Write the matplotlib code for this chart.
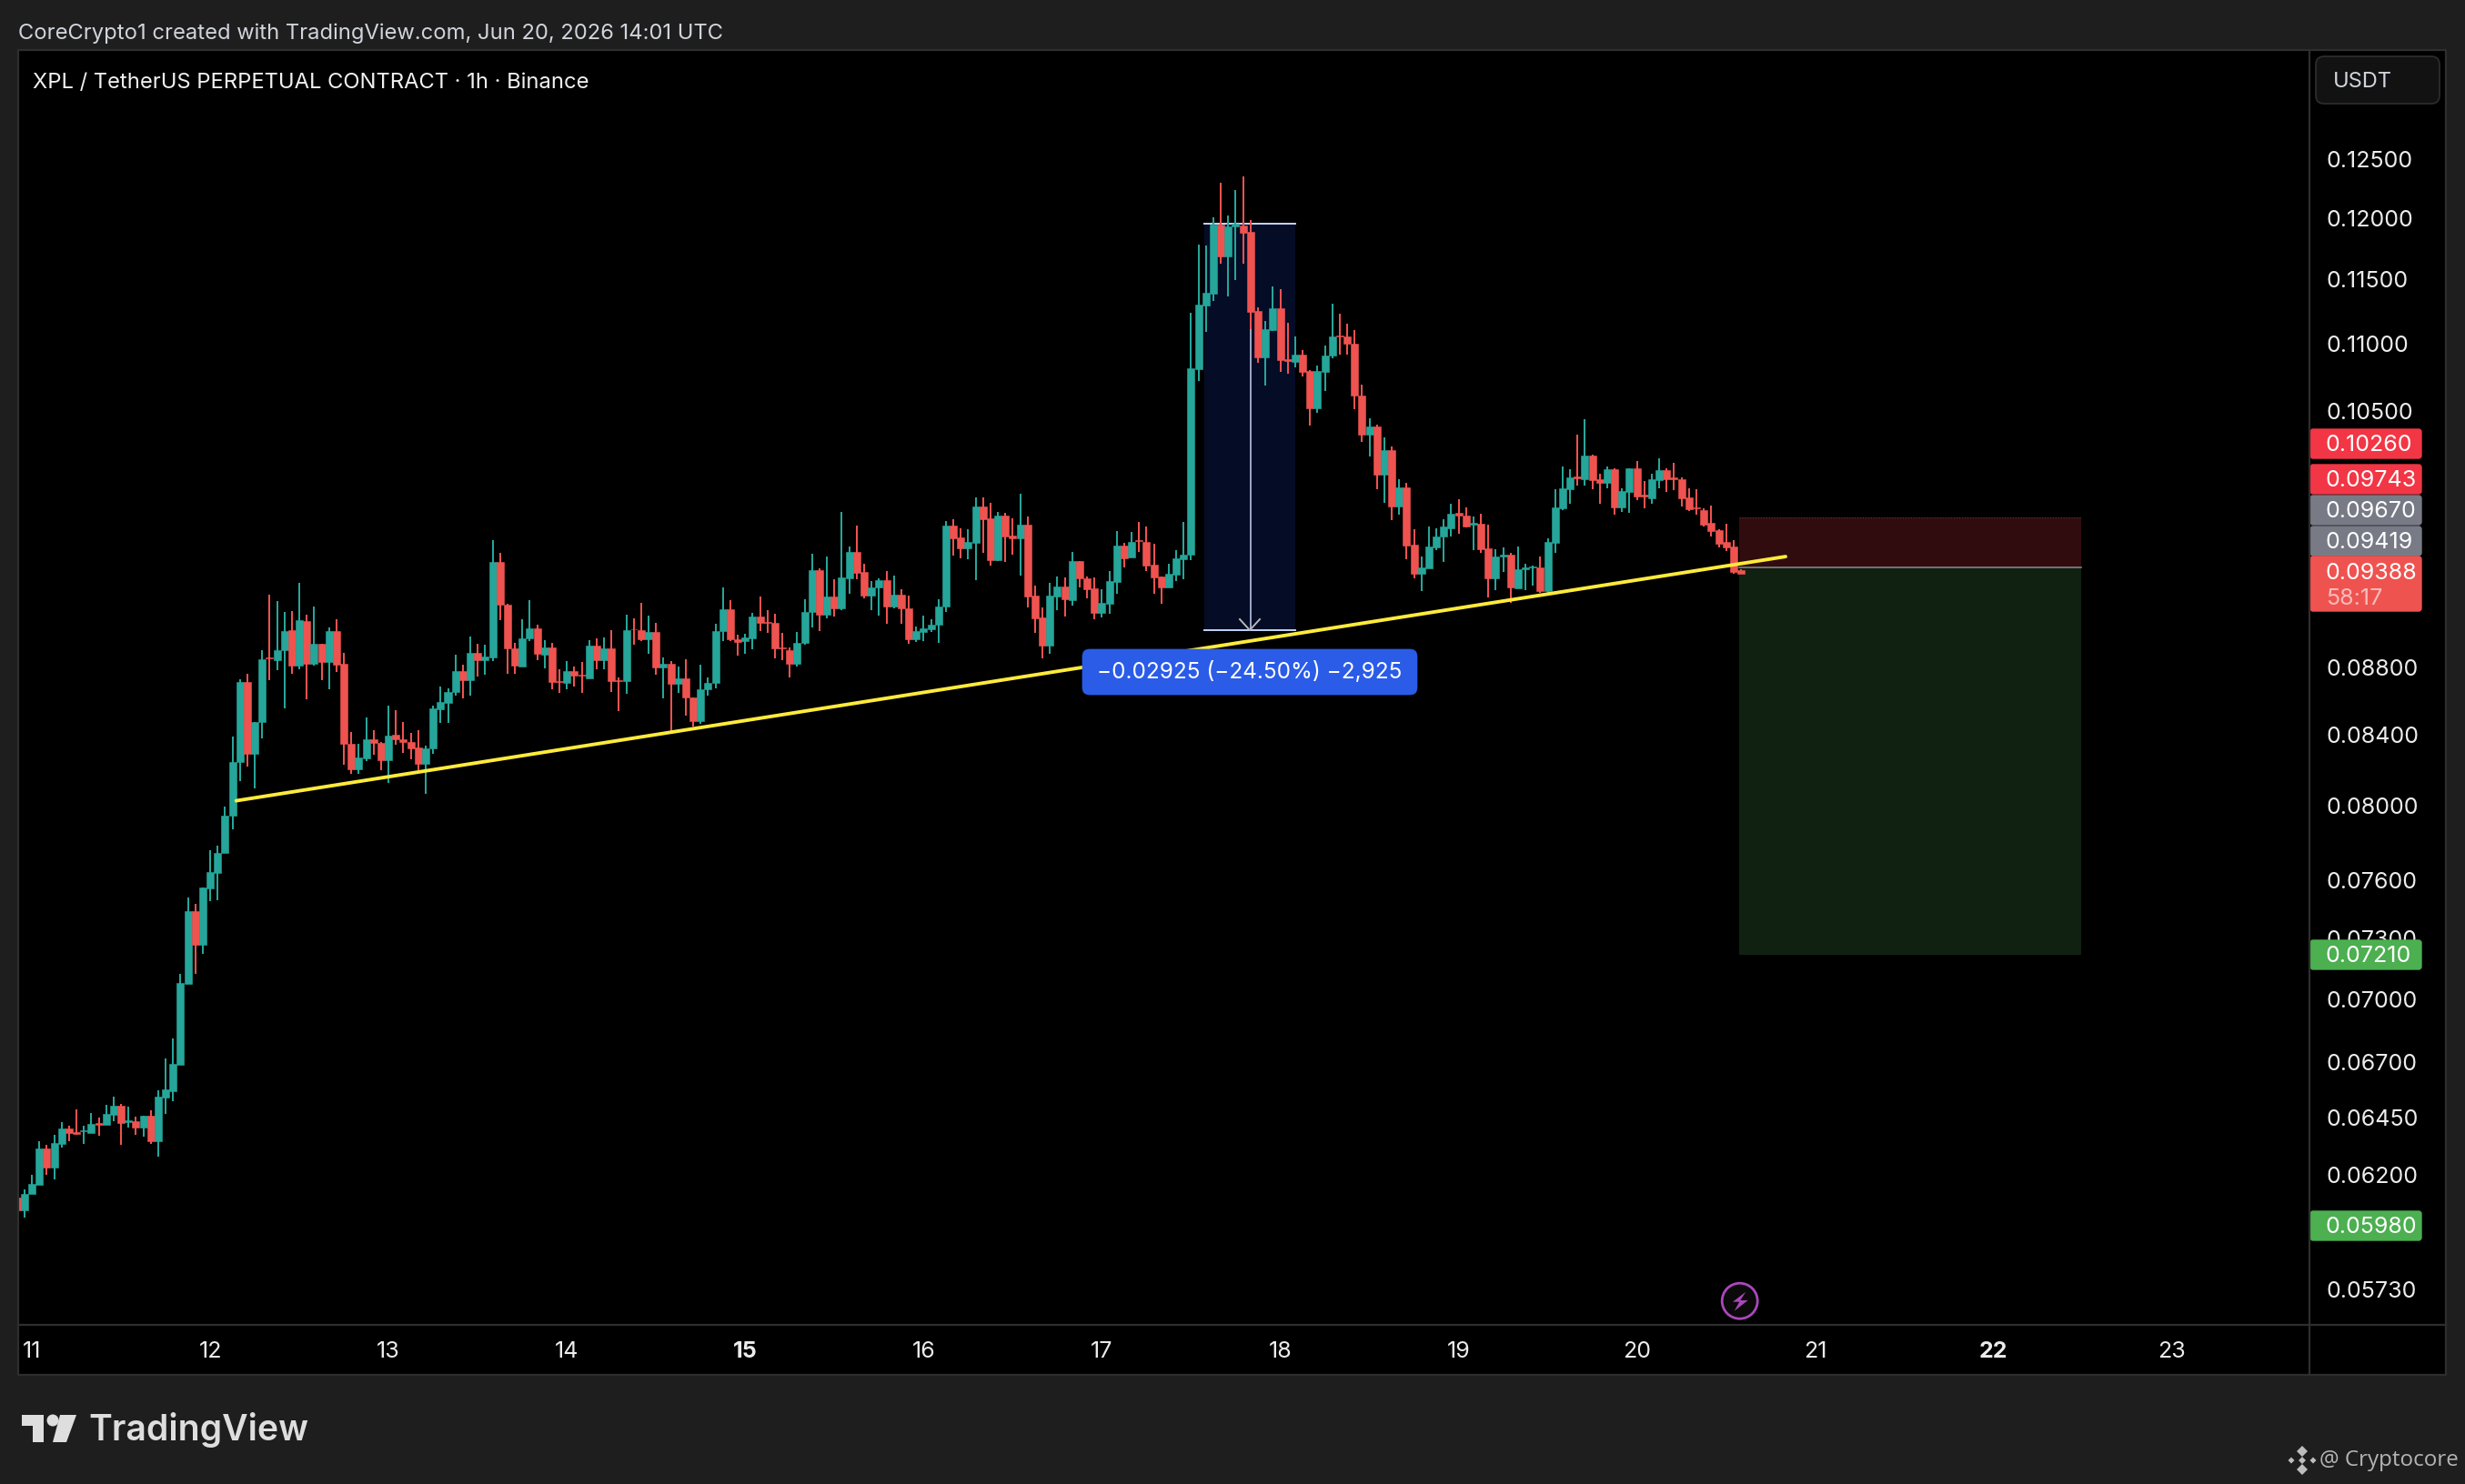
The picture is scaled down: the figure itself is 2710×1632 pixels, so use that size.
"""XPL/USDT 1h candle chart in the TradingView dark screenshot style."""

import matplotlib

matplotlib.use("Agg")

from matplotlib import pyplot as plt
from matplotlib.patches import Circle, FancyBboxPatch, Polygon, Rectangle
from matplotlib.ticker import NullLocator

# candles, one per hour; first one is two hours before day 11 00:00
first_hour = -2
opens = [
    0.06103, 0.06051, 0.06117, 0.06159, 0.06314, 0.06232, 0.06335, 0.06402, 0.06386, 0.06388,
    0.06382, 0.06425, 0.06417, 0.06464, 0.06503, 0.06431, 0.06433, 0.06404, 0.06457, 0.06347,
    0.06541, 0.06570, 0.06689, 0.07075, 0.07437, 0.07266, 0.07557, 0.07637, 0.07741, 0.07942,
    0.08242, 0.08711, 0.08288, 0.08472, 0.08858, 0.08841, 0.08903, 0.09029, 0.08809, 0.09084,
    0.08822, 0.08942, 0.08833, 0.09024, 0.08819, 0.08349, 0.08204, 0.08264, 0.08375, 0.08354,
    0.08256, 0.08402, 0.08373, 0.08360, 0.08328, 0.08232, 0.08320, 0.08551, 0.08588, 0.08650,
    0.08779, 0.08721, 0.08889, 0.08841, 0.08863, 0.09464, 0.09190, 0.08917, 0.08806, 0.08976,
    0.09042, 0.08878, 0.08923, 0.08717, 0.08704, 0.08779, 0.08757, 0.08734, 0.08934, 0.08846,
    0.08917, 0.08722, 0.08715, 0.09037, 0.09030, 0.08970, 0.09019, 0.08797, 0.08823, 0.08699,
    0.08735, 0.08621, 0.08478, 0.08666, 0.08704, 0.09021, 0.09161, 0.08974, 0.08959, 0.08976,
    0.09116, 0.09081, 0.09076, 0.08921, 0.08906, 0.08819, 0.08948, 0.09141, 0.09411, 0.09124,
    0.09242, 0.09167, 0.09360, 0.09530, 0.09399, 0.09244, 0.09296, 0.09347, 0.09180, 0.09253,
    0.09167, 0.08970, 0.09019, 0.09036, 0.09060, 0.09175, 0.09705, 0.09626, 0.09552, 0.09589,
    0.09834, 0.09754, 0.09476, 0.09772, 0.09638, 0.09619, 0.09711, 0.09247, 0.09110, 0.08934,
    0.09242, 0.09306, 0.09219, 0.09470, 0.09359, 0.09294, 0.09139, 0.09196, 0.09335, 0.09572,
    0.09494, 0.09608, 0.09595, 0.09446, 0.09370, 0.09300, 0.09382, 0.09482, 0.09509, 0.10813,
    0.11298, 0.11389, 0.11946, 0.11688, 0.11932, 0.11937, 0.11886, 0.11255, 0.10902, 0.11108,
    0.11274, 0.10887, 0.10866, 0.10921, 0.10797, 0.10524, 0.10792, 0.10910, 0.11065, 0.11057,
    0.11004, 0.10618, 0.10334, 0.10394, 0.10054, 0.10225, 0.09830, 0.09966, 0.09578, 0.09389,
    0.09425, 0.09561, 0.09629, 0.09689, 0.09790, 0.09773, 0.09713, 0.09717, 0.09555, 0.09355,
    0.09498, 0.09512, 0.09295, 0.09418, 0.09427, 0.09429, 0.09276, 0.09590, 0.09822, 0.09951,
    0.10040, 0.10021, 0.10185, 0.10021, 0.09996, 0.10090, 0.09828, 0.09933, 0.10096, 0.09914,
    0.09890, 0.10015, 0.10084, 0.10033, 0.10021, 0.09896, 0.09828, 0.09809, 0.09723, 0.09675,
    0.09596, 0.09566, 0.09411,
]
highs = [
    0.06120, 0.06139, 0.06199, 0.06345, 0.06328, 0.06374, 0.06431, 0.06414, 0.06486, 0.06414,
    0.06470, 0.06449, 0.06507, 0.06543, 0.06511, 0.06499, 0.06453, 0.06457, 0.06482, 0.06572,
    0.06719, 0.06812, 0.07122, 0.07507, 0.07475, 0.07560, 0.07756, 0.07781, 0.07992, 0.08388,
    0.08728, 0.08762, 0.08475, 0.08906, 0.09251, 0.09209, 0.09143, 0.09151, 0.09329, 0.09125,
    0.09178, 0.08942, 0.09047, 0.09096, 0.08888, 0.08415, 0.08349, 0.08502, 0.08426, 0.08360,
    0.08571, 0.08543, 0.08475, 0.08410, 0.08426, 0.08339, 0.08571, 0.08686, 0.08675, 0.08878,
    0.08818, 0.08991, 0.08946, 0.08940, 0.09608, 0.09524, 0.09196, 0.08951, 0.09098, 0.09219,
    0.09064, 0.08968, 0.08951, 0.08790, 0.08840, 0.08807, 0.08834, 0.08968, 0.08979, 0.08985,
    0.09030, 0.08741, 0.09127, 0.09104, 0.09202, 0.09121, 0.09076, 0.08862, 0.08840, 0.08807,
    0.08851, 0.08621, 0.08818, 0.08741, 0.09070, 0.09300, 0.09219, 0.09002, 0.09008, 0.09139,
    0.09242, 0.09156, 0.09133, 0.09013, 0.08923, 0.09019, 0.09224, 0.09518, 0.09423, 0.09500,
    0.09353, 0.09797, 0.09566, 0.09705, 0.09452, 0.09341, 0.09359, 0.09405, 0.09376, 0.09288,
    0.09247, 0.09053, 0.09121, 0.09098, 0.09224, 0.09736, 0.09748, 0.09687, 0.09680, 0.09895,
    0.09895, 0.09858, 0.09797, 0.09791, 0.09754, 0.09920, 0.09766, 0.09312, 0.09171, 0.09329,
    0.09370, 0.09364, 0.09530, 0.09470, 0.09370, 0.09364, 0.09288, 0.09405, 0.09668, 0.09590,
    0.09662, 0.09730, 0.09699, 0.09583, 0.09370, 0.09452, 0.09542, 0.09730, 0.11237, 0.11781,
    0.11775, 0.12006, 0.12295, 0.12021, 0.12233, 0.12346, 0.11985, 0.11282, 0.11178, 0.11446,
    0.11424, 0.11164, 0.11057, 0.10955, 0.10805, 0.10839, 0.10989, 0.11312, 0.11234, 0.11156,
    0.11108, 0.10697, 0.10451, 0.10406, 0.10313, 0.10249, 0.10020, 0.09997, 0.09680, 0.09500,
    0.09698, 0.09687, 0.09748, 0.09854, 0.09885, 0.09828, 0.09766, 0.09785, 0.09713, 0.09548,
    0.09559, 0.09521, 0.09566, 0.09453, 0.09441, 0.09500, 0.09620, 0.09951, 0.10109, 0.10090,
    0.10333, 0.10444, 0.10192, 0.10059, 0.10109, 0.10096, 0.09958, 0.10096, 0.10147, 0.10008,
    0.10059, 0.10166, 0.10096, 0.10134, 0.10033, 0.09958, 0.09951, 0.09822, 0.09840, 0.09681,
    0.09717, 0.09608, 0.09417,
]
lows = [
    0.06040, 0.06019, 0.06117, 0.06159, 0.06199, 0.06179, 0.06318, 0.06347, 0.06372, 0.06335,
    0.06382, 0.06368, 0.06417, 0.06435, 0.06331, 0.06404, 0.06372, 0.06364, 0.06335, 0.06280,
    0.06468, 0.06524, 0.06687, 0.07075, 0.07120, 0.07219, 0.07490, 0.07492, 0.07741, 0.07870,
    0.08137, 0.08216, 0.08093, 0.08381, 0.08725, 0.08784, 0.08552, 0.08759, 0.08789, 0.08607,
    0.08811, 0.08720, 0.08670, 0.08770, 0.08227, 0.08179, 0.08174, 0.08248, 0.08283, 0.08195,
    0.08127, 0.08341, 0.08293, 0.08261, 0.08198, 0.08063, 0.08288, 0.08467, 0.08467, 0.08628,
    0.08612, 0.08628, 0.08743, 0.08753, 0.08836, 0.09089, 0.08759, 0.08759, 0.08803, 0.08959,
    0.08841, 0.08792, 0.08666, 0.08645, 0.08666, 0.08686, 0.08645, 0.08732, 0.08786, 0.08786,
    0.08650, 0.08537, 0.08639, 0.08936, 0.08962, 0.08880, 0.08753, 0.08612, 0.08406, 0.08645,
    0.08510, 0.08450, 0.08462, 0.08628, 0.08672, 0.08959, 0.08959, 0.08874, 0.08885, 0.08908,
    0.09021, 0.09010, 0.08852, 0.08846, 0.08737, 0.08803, 0.08936, 0.09043, 0.09021, 0.09100,
    0.09112, 0.09152, 0.09261, 0.09349, 0.09232, 0.09152, 0.09118, 0.09066, 0.09163, 0.09070,
    0.08946, 0.08957, 0.08962, 0.09019, 0.08951, 0.09141, 0.09506, 0.09488, 0.09482, 0.09347,
    0.09524, 0.09440, 0.09470, 0.09464, 0.09512, 0.09376, 0.09171, 0.09013, 0.08856, 0.08884,
    0.09156, 0.09116, 0.09184, 0.09300, 0.09230, 0.09098, 0.09110, 0.09133, 0.09259, 0.09429,
    0.09494, 0.09530, 0.09405, 0.09259, 0.09196, 0.09300, 0.09341, 0.09353, 0.09473, 0.10723,
    0.11095, 0.11331, 0.11623, 0.11369, 0.11496, 0.11629, 0.11111, 0.10855, 0.10687, 0.11100,
    0.10792, 0.10779, 0.10826, 0.10756, 0.10401, 0.10491, 0.10646, 0.10894, 0.10918, 0.10918,
    0.10518, 0.10281, 0.10176, 0.09954, 0.09858, 0.09738, 0.09780, 0.09484, 0.09355, 0.09278,
    0.09425, 0.09539, 0.09466, 0.09629, 0.09652, 0.09694, 0.09543, 0.09521, 0.09237, 0.09284,
    0.09396, 0.09198, 0.09291, 0.09284, 0.09311, 0.09264, 0.09255, 0.09524, 0.09810, 0.09852,
    0.09977, 0.09977, 0.09951, 0.09852, 0.09958, 0.09778, 0.09797, 0.09791, 0.09877, 0.09822,
    0.09852, 0.09958, 0.09933, 0.09945, 0.09834, 0.09803, 0.09778, 0.09699, 0.09633, 0.09560,
    0.09536, 0.09387, 0.09387,
]
closes = [
    0.06051, 0.06119, 0.06161, 0.06314, 0.06232, 0.06337, 0.06402, 0.06380, 0.06378, 0.06394,
    0.06421, 0.06417, 0.06466, 0.06503, 0.06427, 0.06437, 0.06404, 0.06457, 0.06347, 0.06543,
    0.06576, 0.06693, 0.07077, 0.07437, 0.07266, 0.07560, 0.07639, 0.07744, 0.07944, 0.08245,
    0.08711, 0.08288, 0.08475, 0.08849, 0.08852, 0.08906, 0.09024, 0.08811, 0.09090, 0.08822,
    0.08942, 0.08833, 0.09024, 0.08816, 0.08346, 0.08204, 0.08269, 0.08375, 0.08352, 0.08256,
    0.08394, 0.08373, 0.08357, 0.08323, 0.08232, 0.08323, 0.08554, 0.08594, 0.08654, 0.08779,
    0.08721, 0.08889, 0.08841, 0.08867, 0.09464, 0.09186, 0.08914, 0.08808, 0.08979, 0.09042,
    0.08880, 0.08923, 0.08710, 0.08710, 0.08779, 0.08749, 0.08751, 0.08934, 0.08846, 0.08917,
    0.08715, 0.08715, 0.09030, 0.09032, 0.08970, 0.09019, 0.08797, 0.08823, 0.08699, 0.08735,
    0.08618, 0.08478, 0.08670, 0.08708, 0.09025, 0.09161, 0.08970, 0.08953, 0.08981, 0.09116,
    0.09072, 0.09074, 0.08914, 0.08914, 0.08819, 0.08951, 0.09145, 0.09411, 0.09124, 0.09242,
    0.09167, 0.09364, 0.09530, 0.09395, 0.09244, 0.09300, 0.09347, 0.09180, 0.09253, 0.09163,
    0.08974, 0.09025, 0.09042, 0.09064, 0.09178, 0.09705, 0.09619, 0.09552, 0.09595, 0.09834,
    0.09748, 0.09476, 0.09772, 0.09634, 0.09622, 0.09711, 0.09242, 0.09104, 0.08934, 0.09247,
    0.09306, 0.09224, 0.09470, 0.09359, 0.09288, 0.09139, 0.09202, 0.09341, 0.09572, 0.09488,
    0.09595, 0.09600, 0.09440, 0.09364, 0.09300, 0.09388, 0.09488, 0.09512, 0.10818, 0.11304,
    0.11397, 0.11946, 0.11688, 0.11932, 0.11949, 0.11880, 0.11247, 0.10902, 0.11113, 0.11274,
    0.10876, 0.10873, 0.10921, 0.10792, 0.10524, 0.10797, 0.10915, 0.11057, 0.11054, 0.11004,
    0.10613, 0.10334, 0.10394, 0.10054, 0.10225, 0.09830, 0.09966, 0.09571, 0.09389, 0.09428,
    0.09566, 0.09634, 0.09696, 0.09785, 0.09769, 0.09699, 0.09722, 0.09550, 0.09355, 0.09500,
    0.09509, 0.09297, 0.09416, 0.09428, 0.09435, 0.09276, 0.09596, 0.09828, 0.09958, 0.10033,
    0.10027, 0.10185, 0.10015, 0.09996, 0.10090, 0.09828, 0.09939, 0.10096, 0.09902, 0.09904,
    0.10021, 0.10084, 0.10021, 0.10023, 0.09890, 0.09816, 0.09820, 0.09711, 0.09669, 0.09584,
    0.09560, 0.09399, 0.09388,
]

day_hours = [0, 24, 48, 72, 96, 120, 144, 168, 192, 216, 240, 264, 288]
day_labels = ["11", "12", "13", "14", "15", "16", "17", "18", "19", "20", "21", "22", "23"]
bold_days = ["15", "22"]
price_ticks = [
    0.125, 0.12, 0.115, 0.11, 0.105, 0.10, 0.096, 0.092, 0.088, 0.084, 0.08,
    0.076, 0.073, 0.07, 0.067, 0.0645, 0.062, 0.0597, 0.0573,
]

# trend line and drawing tools (hour, price)
trend_hours = [27.5, 236.0]
trend_prices = [0.08026, 0.09499]
measure_hours = [157.8, 170.0]
measure_mid_hour = 164.0
measure_top = 0.11954
measure_bottom = 0.09029
position_hours = [229.7, 275.8]
stop_price = 0.09758
entry_price = 0.09430
target_price = 0.07218

# price tags on the axis: label, top px, bottom px, fill
tag_labels = ["0.10260", "0.09743", "0.09670", "0.09419", "0.07210", "0.05980"]
tag_tops = [471, 510, 544, 578, 1033, 1331]
tag_bottoms = [505, 544, 578, 612, 1067, 1365]
tag_colors = ["#f23645", "#f23645", "#787b86", "#787b86", "#4caf50", "#4caf50"]

COLOR_UP = "#26a69a"
COLOR_DOWN = "#ef5350"
COLOR_BG = "#1e1e1e"
COLOR_BORDER = "#2e2e2e"
COLOR_TEXT = "#ececec"
COLOR_MEASURE = "#c3d6f7"
FONT = "Inter"
PRICE_SIZE = 18
W, H = 2710, 1632

plt.rcParams["font.family"] = FONT

fig = plt.figure(figsize=(W / 100, H / 100), dpi=100, facecolor=COLOR_BG)

# black panes behind everything
back = fig.add_axes([0, 0, 1, 1], zorder=0)
back.set_xlim(0, W)
back.set_ylim(H, 0)
back.axis("off")
back.add_patch(Rectangle((20, 55), 2669, 1457, color="black", lw=0))

ax = fig.add_axes([21 / W, 1 - 1457 / H, (2539 - 21) / W, (1457 - 55) / H], zorder=1)
ax.patch.set_alpha(0)
ax.set_yscale("log")
ax.set_xlim(-1.714, 306.5)
ax.set_ylim(0.05590, 0.13474)
for spine in ax.spines.values():
    spine.set_visible(False)

# drawing tools under the candles
ax.fill_between(measure_hours, measure_bottom, measure_top, color="#050c26", lw=0, zorder=1)
ax.plot(measure_hours, [measure_top, measure_top], color=COLOR_MEASURE, lw=1.4, zorder=2)
ax.plot(measure_hours, [measure_bottom, measure_bottom], color=COLOR_MEASURE, lw=1.4, zorder=2)
ax.plot([measure_mid_hour, measure_mid_hour], [measure_bottom, measure_top],
        color=COLOR_MEASURE, lw=1.1, zorder=2)
ax.fill_between(position_hours, entry_price, stop_price, color="#300c0f", lw=0, zorder=1)
ax.fill_between(position_hours, target_price, entry_price, color="#112111", lw=0, zorder=1)
ax.plot(position_hours, [entry_price, entry_price], color="#8c8c8c", lw=1.1, zorder=2)
ax.plot(position_hours, [stop_price, stop_price], color="#5a3a20", lw=0.8, ls=":", zorder=2)

hours = [first_hour + index for index in range(len(opens))]
for hour, open_, high, low, close in zip(hours, opens, highs, lows, closes, strict=True):
    color = COLOR_UP if close >= open_ else COLOR_DOWN
    ax.vlines(hour, low, high, color=color, lw=1.44, zorder=3)
    ax.bar(hour, abs(close - open_), bottom=min(open_, close), width=0.98,
           color=color, edgecolor=color, lw=0.4, zorder=4)

ax.plot(trend_hours, trend_prices, color="#ffeb3b", lw=2.8, zorder=5, solid_capstyle="round")

ax.set_xticks(day_hours, day_labels)
ax.yaxis.tick_right()
ax.set_yticks(price_ticks, [f"{tick:.5f}" for tick in price_ticks])
ax.yaxis.set_minor_locator(NullLocator())
ax.xaxis.set_minor_locator(NullLocator())
ax.tick_params(axis="x", length=0, pad=13, labelsize=PRICE_SIZE, colors=COLOR_TEXT)
ax.tick_params(axis="y", length=0, pad=13, labelsize=PRICE_SIZE, colors=COLOR_TEXT)
for label in ax.get_xticklabels():
    if label.get_text() in bold_days:
        label.set_fontweight("bold")

# everything in screen pixels from here on
top = fig.add_axes([0, 0, 1, 1], zorder=2)
top.set_xlim(0, W)
top.set_ylim(H, 0)
top.axis("off")

for xs, ys in [
    ([20, 2689, 2689, 20, 20], [55, 55, 1512, 1512, 55]),
    ([20, 2689], [1457, 1457]),
    ([2539, 2539], [55, 1512]),
]:
    top.plot(xs, ys, color=COLOR_BORDER, lw=1.6)

for label, y0, y1, color in zip(tag_labels, tag_tops, tag_bottoms, tag_colors, strict=True):
    top.add_patch(FancyBboxPatch((2540, y0 + 1), 122, y1 - y0 - 2,
                                 boxstyle="round,pad=0,rounding_size=3", fc=color, ec=color, lw=1))
    top.text(2557, (y0 + y1) / 2 + 1.5, label, color="white", fontsize=PRICE_SIZE,
             va="center", ha="left")
top.add_patch(FancyBboxPatch((2540, 612), 122, 60, boxstyle="round,pad=0,rounding_size=3",
                             fc=COLOR_DOWN, ec=COLOR_DOWN, lw=1))
top.text(2557, 630.5, "0.09388", color="white", fontsize=PRICE_SIZE, va="center", ha="left")
top.text(2557, 658.5, "58:17", color="#f7bcbb", fontsize=PRICE_SIZE, va="center", ha="left")

top.add_patch(FancyBboxPatch((2546, 62), 136, 52, boxstyle="round,pad=0,rounding_size=9",
                             fc="#121212", ec="#2e2e2e", lw=1.2))
top.text(2565, 89.5, "USDT", color="#d1d4dc", fontsize=17, va="center", ha="left")

top.text(20, 36.5, "CoreCrypto1 created with TradingView.com, Jun 20, 2026 14:01 UTC",
         color="#d1d4dc", fontsize=17.1, va="center", ha="left")
top.text(36, 91.5, "XPL / TetherUS PERPETUAL CONTRACT · 1h · Binance",
         color="#f0f0f0", fontsize=17.1, va="center", ha="left")

# measure tool arrow head and label
top.plot([1363, 1374, 1385], [681, 693, 681], color="#b8b8b8", lw=1.4)
top.add_patch(FancyBboxPatch((1190, 714), 368, 50, boxstyle="round,pad=0,rounding_size=8",
                             fc="#2a5ce8", ec="#2a5ce8", lw=0.5))
top.text(1374, 739.5, "\u22120.02925 (\u221224.50%) \u22122,925", color="white", fontsize=17.5,
         va="center", ha="center")

# bolt icon
bolt = "#ab47bc"
top.add_patch(Circle((1912.7, 1430.7), 19.5, fc="#0a0a0a", ec=bolt, lw=2))
top.add_patch(Polygon([(1919.3, 1420.7), (1905, 1431.7), (1912.3, 1431.7), (1906.7, 1441.7),
                       (1921.7, 1430), (1913.3, 1430)], fc=bolt, ec="none"))

# TradingView logo
logo = "#dedede"
top.add_patch(Polygon([(24, 1556), (48, 1556), (48, 1586), (36, 1586), (36, 1568), (24, 1568)],
                      fc=logo, ec="none"))
top.add_patch(Circle((58, 1562), 6.5, fc=logo, ec="none"))
top.add_patch(Polygon([(66, 1556), (84, 1556), (73, 1586), (58, 1586)], fc=logo, ec="none"))
top.text(97, 1572, "TradingView", color=logo, fontsize=28.2, fontweight="semibold",
         va="center", ha="left")

# watermark
mark = "#bdbdbd"
for cx, cy, size in [(2531, 1596, 6), (2531, 1616, 6), (2519, 1606, 3.5), (2543, 1606, 3.5),
                     (2531, 1606, 4)]:
    top.add_patch(Polygon([(cx - size, cy), (cx, cy - size), (cx + size, cy), (cx, cy + size)],
                          fc=mark, ec="none"))
top.text(2550, 1606, "@ Cryptocore", color="#b4b4b4", fontsize=17.4, family="Open Sans",
         va="center", ha="left")

fig.savefig("out.png", dpi=100, facecolor=COLOR_BG)
